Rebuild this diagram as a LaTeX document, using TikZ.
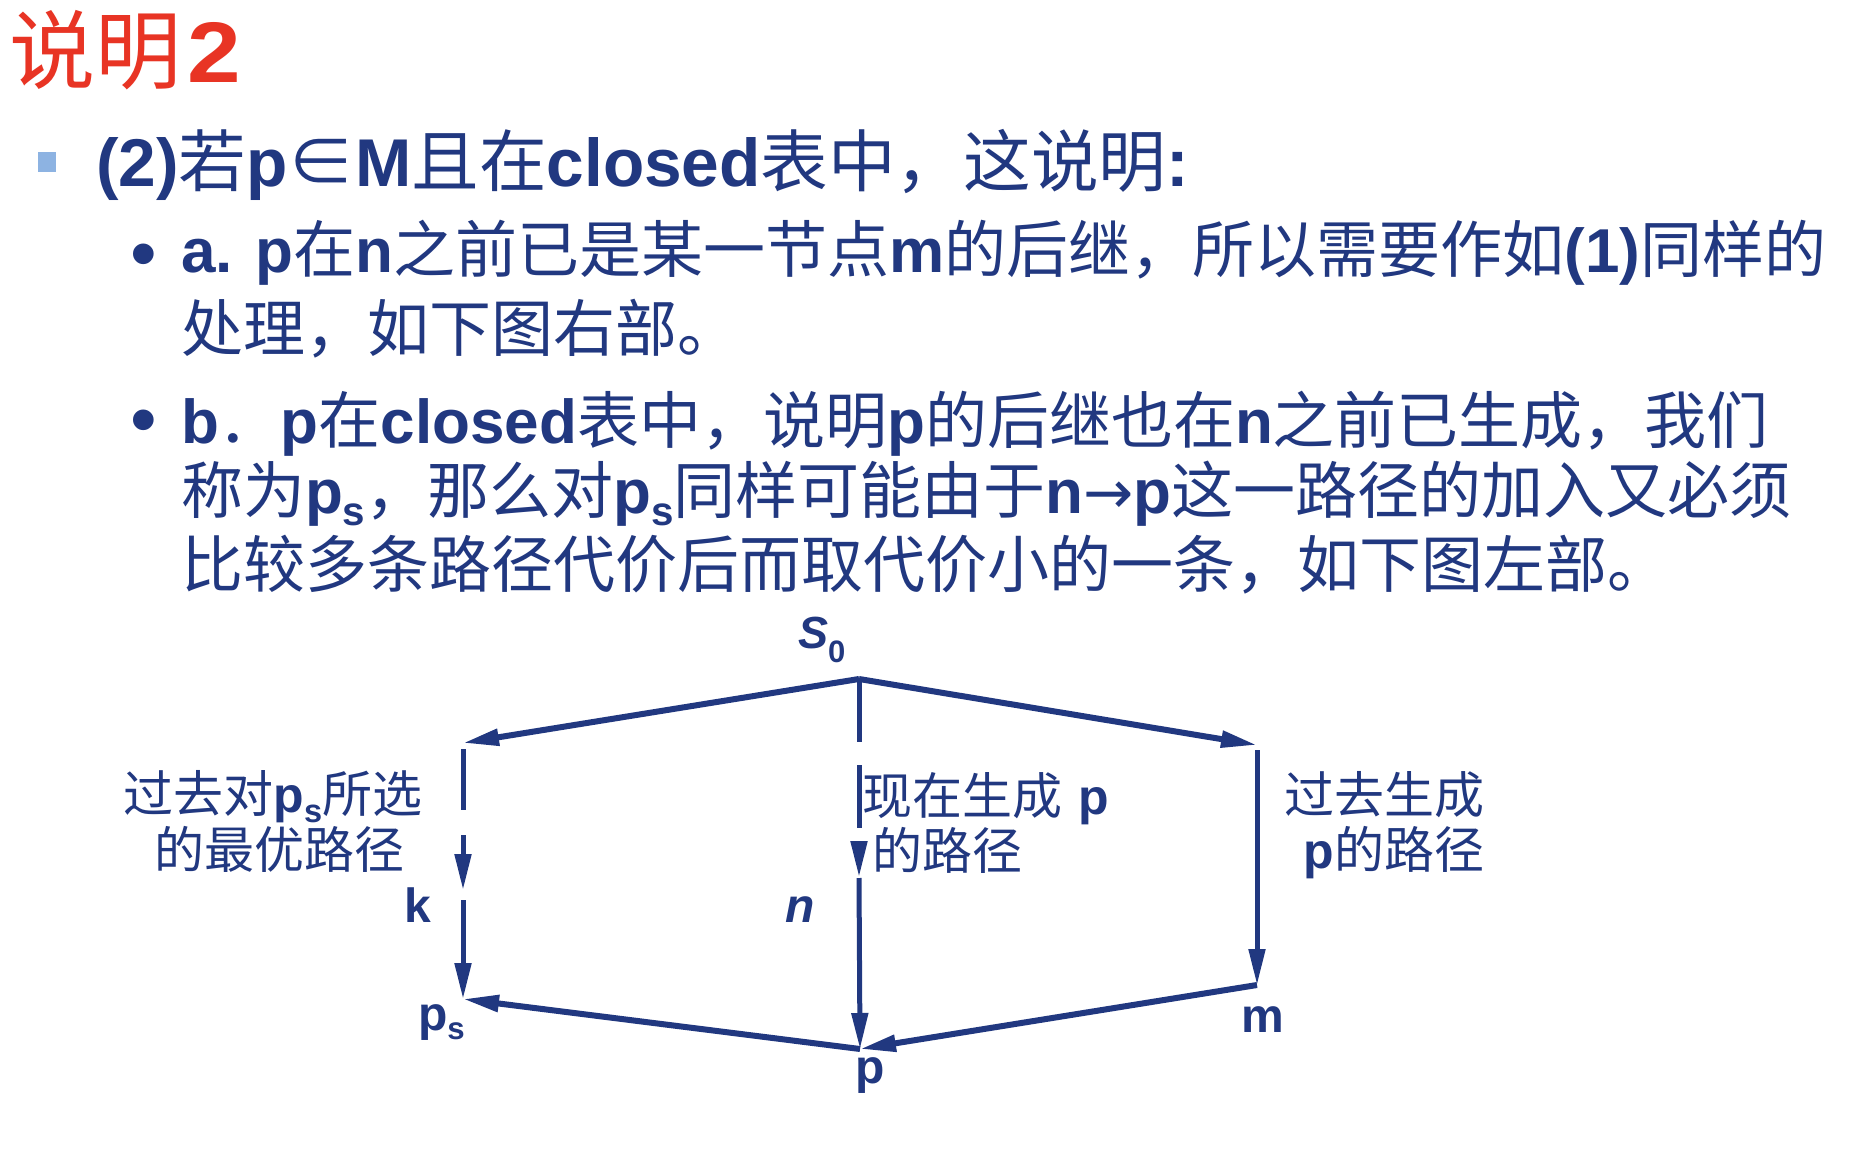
\documentclass[tikz,border=0pt]{standalone}
\usepackage{fontspec}
\usepackage{graphicx}
\setmainfont{Liberation Sans}
\newfontfamily\cjk{Noto Sans CJK SC}
\newfontfamily\lat{Liberation Sans}
\newfontfamily\djv{DejaVu Sans}
\usetikzlibrary{arrows.meta}
\definecolor{txt}{RGB}{33,56,128}
\definecolor{titlered}{RGB}{232,52,36}
\definecolor{bulletblue}{RGB}{141,179,226}
\newcommand\E[1]{{\lat\bfseries #1}}
\newcommand\Sub[1]{\raisebox{-0.2em}[0pt][0pt]{\scalebox{0.65}{\E{#1}}}}
\begin{document}
\begin{tikzpicture}[x=0.5pt,y=-0.5pt,
  every node/.style={inner sep=0pt, outer sep=0pt, text=txt},
  body/.style={anchor=base west, font=\cjk\fontsize{31pt}{36pt}\selectfont},
  bul/.style={anchor=center, font=\lat\fontsize{38pt}{44pt}\selectfont},
  lbl/.style={anchor=base, font=\cjk\fontsize{25pt}{30pt}\selectfont},
  letter/.style={anchor=base, font=\lat\bfseries\fontsize{24pt}{28pt}\selectfont},
  conn/.style={draw=txt, line width=3pt, -{Triangle[length=18pt,width=8pt]}},
  vconn/.style={conn, line width=2.5pt},
]
\fill[white] (0,0) rectangle (1861,1165);
\useasboundingbox (0,0) rectangle (1861,1165);

% title
\node[anchor=base west, text=titlered, font=\cjk\fontsize{43pt}{50pt}\selectfont] (title) at (10,83) {说明\hspace{3pt}\E{\scalebox{1.12}[1]{2}}};

% body text
\node[fill=bulletblue, minimum width=9pt, minimum height=10pt] (b1) at (47,162) {};
\node[body, font=\cjk\fontsize{33.8pt}{38pt}\selectfont] (l1) at (96,187) {\E{(2)}若\E{p}∈\E{M}且在\E{closed}表中，这说明\E{:}};
\node[bul] (b2) at (144,262) {•};
\node[body] (l2) at (181,273) {\E{a. p}在\E{n}之前已是某一节点\E{m}的后继，所以需要作如\E{(1)}同样的};
\node[body] (l3) at (181,352) {处理，如下图右部。};
\node[bul] (b3) at (144,428) {•};
\node[body] (l4) at (181,444) {\E{b}．\E{p}在\E{closed}表中，说明\E{p}的后继也在\E{n}之前已生成，我们};
\node[body] (l5) at (181,513) {称为\E{p}\Sub{s}，那么对\E{p}\Sub{s}同样可能由于\E{n}{\djv\fontsize{30pt}{36pt}\selectfont →}\E{p}这一路径的加入又必须};
\node[body] (l6) at (181,587) {比较多条路径代价后而取代价小的一条，如下图左部。};

% diagram points
\coordinate (S) at (859,679);
\coordinate (L) at (463,743);
\coordinate (K) at (463,890);
\coordinate (Ps) at (463,999);
\coordinate (N) at (859,877);
\coordinate (P) at (860,1049);
\coordinate (R) at (1257,745);
\coordinate (M) at (1257,985);

% connectors
\draw[conn] (S) -- (L);
\draw[conn] (S) -- (R);
\draw[vconn, shorten <=3pt, dash pattern=on 30.5pt off 12.5pt] (L) -- (K);
\draw[vconn, shorten <=5pt] (K) -- (Ps);
\draw[vconn, dash pattern=on 31.5pt off 11.5pt] (S) -- (N);
\draw[vconn, shorten <=0.5pt] (N) -- (P);
\draw[vconn, shorten <=2.5pt] (R) -- (M);
\draw[conn] (M) -- (P);
\draw[conn] (P) -- (Ps);

% point labels
\node[anchor=base west, font=\lat\bfseries\fontsize{22.5pt}{26pt}\selectfont] (s0) at (798,648) {\textit{S}\raisebox{-7pt}{\fontsize{15.5pt}{18pt}\selectfont 0}};
\node[letter, font=\lat\bfseries\itshape\fontsize{24pt}{28pt}\selectfont] (nl) at (800,922) {n};
\node[letter] (kl) at (418,922) {k};
\node[anchor=base west, font=\lat\bfseries\fontsize{24pt}{28pt}\selectfont] (psl) at (418,1030) {p\Sub{s}};
\node[letter] (pl) at (870,1083) {p};
\node[letter] (ml) at (1263,1032) {m};

% path labels
\node[lbl] (left1) at (273,812) {过去对\E{p}\Sub{s}所选};
\node[lbl] (left2) at (279,868) {的最优路径};
\node[lbl, anchor=base west] (mid1) at (862,814) {现在生成\hspace{8pt}\E{p}};
\node[lbl, anchor=base west] (mid2) at (872,869) {的路径};
\node[lbl, anchor=base east] (right1) at (1484,813) {过去生成};
\node[lbl, anchor=base east] (right2) at (1484,868) {\E{p}的路径};
\end{tikzpicture}
\end{document}
